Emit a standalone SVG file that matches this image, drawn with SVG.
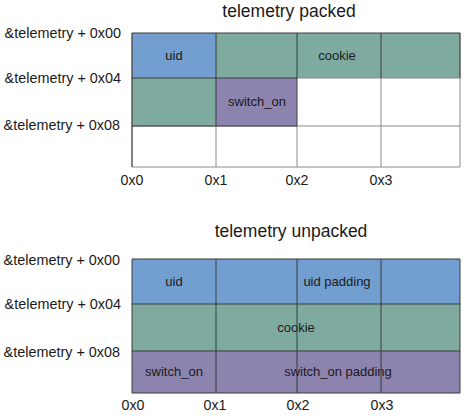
<svg xmlns="http://www.w3.org/2000/svg" width="474" height="416" viewBox="0 0 474 416">
<style>
text{font-family:"Liberation Sans",Arial,sans-serif;fill:#1a1a1a}
.title{font-size:17.5px;text-anchor:middle}
.addr{font-size:14.4px;text-anchor:end}
.axis{font-size:14.2px;text-anchor:middle}
.lbl{font-size:13px;text-anchor:middle}
.blue{fill:#729fcf}
.teal{fill:#7faaa0}
.purple{fill:#8c83ae}
.white{fill:#ffffff}
.grid{stroke:#3a3a3a;stroke-width:1;fill:none}
.lgrid{stroke:#8a8a8a;stroke-width:1;fill:none}
</style>
<rect width="474" height="416" fill="#ffffff"/>

<!-- Packed -->
<text class="title" x="289" y="17">telemetry packed</text>
<g id="packed-addr">
<text class="addr" x="121" y="38">&amp;telemetry + 0x00</text>
<text class="addr" x="121" y="83">&amp;telemetry + 0x04</text>
<text class="addr" x="120" y="130">&amp;telemetry + 0x08</text>
</g>
<g id="packed-empty"><rect class="white" x="132" y="33" width="328" height="134"/></g>
<g id="packed-uid"><rect class="blue" x="132" y="33" width="84" height="45"/><text class="lbl" x="174" y="60">uid</text></g>
<g id="packed-cookie"><path class="teal" d="M216 33H460V78H216V126H132V78H216Z"/><text class="lbl" x="337" y="60">cookie</text></g>
<g id="packed-switch_on"><rect class="purple" x="216" y="78" width="81" height="48"/><text class="lbl" x="257" y="106">switch_on</text></g>
<g id="packed-grid">
<path class="lgrid" d="M132 33V167H460V33M297 126V167M381 78V167M216 126V167M297 78H460M132 126H460"/>
<path class="grid" d="M132 167V33H460V78M216 33V126M297 33V126M381 33V78M132 78H297M132 126H297"/>
</g>
<g id="packed-axis">
<text class="axis" x="132" y="185">0x0</text>
<text class="axis" x="216" y="185">0x1</text>
<text class="axis" x="297" y="185">0x2</text>
<text class="axis" x="381" y="185">0x3</text>
</g>

<!-- Unpacked -->
<text class="title" x="291" y="237">telemetry unpacked</text>
<g id="unpacked-addr">
<text class="addr" x="120" y="265">&amp;telemetry + 0x00</text>
<text class="addr" x="121" y="309">&amp;telemetry + 0x04</text>
<text class="addr" x="120" y="357">&amp;telemetry + 0x08</text>
</g>
<g id="unpacked-uid"><rect class="blue" x="132" y="259" width="328" height="45"/><text class="lbl" x="174" y="286">uid</text><text class="lbl" x="337" y="286">uid padding</text></g>
<g id="unpacked-cookie"><rect class="teal" x="132" y="304" width="328" height="47"/><text class="lbl" x="296" y="332">cookie</text></g>
<g id="unpacked-switch_on"><rect class="purple" x="132" y="351" width="328" height="42"/><text class="lbl" x="174" y="376">switch_on</text><text class="lbl" x="338" y="376">switch_on padding</text></g>
<g id="unpacked-grid">
<path class="grid" d="M132 259H460V393H132ZM216 259V393M297 259V393M381 259V393M132 304H460M132 351H460"/>
</g>
<g id="unpacked-axis">
<text class="axis" x="133" y="410">0x0</text>
<text class="axis" x="215" y="410">0x1</text>
<text class="axis" x="298" y="410">0x2</text>
<text class="axis" x="382" y="410">0x3</text>
</g>
</svg>
